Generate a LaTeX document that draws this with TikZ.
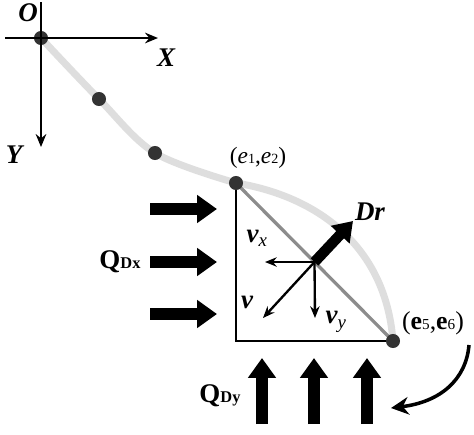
\documentclass[tikz,border=0pt]{standalone}
\usepackage{fontspec}
\setmainfont{Liberation Serif}
\usetikzlibrary{arrows.meta, calc, backgrounds}

\begin{document}
\begin{tikzpicture}[x=0.03cm, y=-0.03cm,
    dot/.style={circle, fill=black!80, inner sep=0pt, minimum size=12pt},
    axis/.style={line width=2.4pt, -{Stealth[length=11pt, width=9pt]}},
    flow/.style={line width=10.5pt, -{Triangle[length=17pt, width=23pt]}},
    vec/.style={line width=2pt, -{Stealth[length=10pt, width=8pt]}},
    lbl/.style={font=\fontsize{23}{26}\selectfont\bfseries\itshape, inner sep=1pt}]
    \useasboundingbox (0,0) rectangle (474,434);
    \node (O) [dot] at (41,38) {};
    \node (P1) [dot] at (99,99) {};
    \node (P2) [dot] at (155,153) {};
    \node (E12) [dot] at (236,183) {};
    \node (E56) [dot] at (393,341) {};
    \coordinate (M) at ($(E12.center)!0.5!(E56.center)$);
    % Axes
    \coordinate (Xs) at (5,38);
    \coordinate (Xe) at (158,38);
    \coordinate (Ys) at (41,2);
    \coordinate (Ye) at (41,147);
    \draw [axis] (Xs) -- (Xe);
    \draw [axis] (Ys) -- (Ye);
    % Trajectory and chord
    \begin{scope}[on background layer]
        \draw [line width=6pt, black!13, line cap=round] plot [smooth, tension=0.55] coordinates {(O.center) (P1.center) (P2.center) (E12.center)};
        \draw [line width=6pt, black!13, line cap=round] (E12.center) .. controls (310,195) and (385,240) .. (E56.center);
        \draw [line width=2.8pt, black!45] (E12.center) -- (E56.center);
        \draw [line width=1.8pt] (E12.center) |- (E56.center);
    \end{scope}
    % Velocity vectors
    \coordinate (Dr) at (353,221);
    \coordinate (Vx) at (265,262);
    \coordinate (V) at (263,318);
    \coordinate (Vy) at (315,318);
    \draw [line width=9pt, -{Triangle[length=16pt, width=21pt]}] (M) -- (Dr);
    \draw [vec] (M) -- (Vx);
    \draw [vec] (M) -- (V);
    \draw [vec] (M) -- (Vy);
    % Flow arrows
    \foreach \y in {209,262,314}
        \draw [flow] (150,\y) -- (217,\y);
    \foreach \x in {262,314,367}
        \draw [flow] (\x,424) -- (\x,358);
    \coordinate (Cs) at (469,345);
    \coordinate (Ce) at (391,408);
    \draw [line width=3pt, -{Stealth[length=15pt, width=15pt]}] (Cs) .. controls (466,380) and (440,402) .. (Ce);
    % Labels
    \node (lO) [lbl] at (28,13) {O};
    \node (lX) [lbl] at (166,58) {X};
    \node (lY) [lbl] at (14,155) {Y};
    \node (lE12) at (258,158) {\fontsize{20}{24}\selectfont(\textit{e}{\fontsize{12}{14}\selectfont 1},\textit{e}{\fontsize{12}{14}\selectfont 2})};
    \node (lE56) at (433,323) {\fontsize{22}{26}\selectfont(\textbf{e}{\fontsize{13}{15}\selectfont 5},\textbf{e}{\fontsize{13}{15}\selectfont 6})};
    \node (lDr) [lbl] at (370,212) {Dr};
    \node (lVx) [lbl] at (257,238) {v\textsubscript{\mdseries x}};
    \node (lV) [lbl] at (247,302) {v};
    \node (lVy) [lbl] at (336,322) {v\textsubscript{\mdseries y}};
    \node (lQx) at (120,262) {\fontsize{23}{26}\selectfont\bfseries Q{\fontsize{14}{16}\selectfont Dx}};
    \node (lQy) at (220,396) {\fontsize{23}{26}\selectfont\bfseries Q{\fontsize{14}{16}\selectfont Dy}};
\end{tikzpicture}
\end{document}
